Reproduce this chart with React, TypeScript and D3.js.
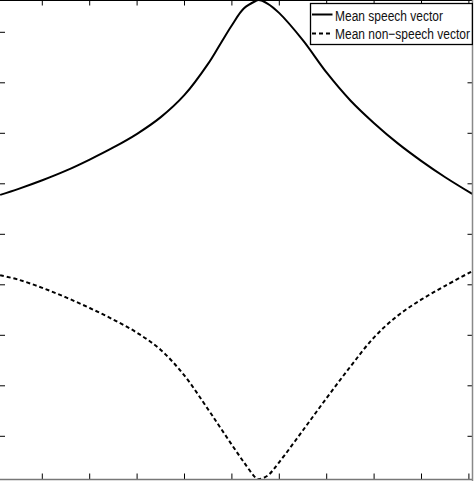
import React from "react";
import * as d3 from "d3";

const xValues = [-0.89, -0.5, 0, 0.5, 1, 1.5, 2, 2.5, 3, 3.5, 3.75, 4, 4.25, 4.5, 4.56, 4.75, 5, 5.5, 6, 6.5, 7, 7.5, 8, 8.5, 9.07];
const speechValues = [4.78, 4.9, 5.07, 5.26, 5.48, 5.72, 5.99, 6.32, 6.76, 7.38, 7.76, 8.14, 8.47, 8.62, 8.64, 8.57, 8.38, 7.84, 7.2, 6.65, 6.2, 5.8, 5.45, 5.13, 4.8];
const nonSpeechValues = [3.19, 3.1, 2.94, 2.75, 2.54, 2.31, 2.05, 1.71, 1.2, 0.53, 0.18, -0.17, -0.51, -0.82, -0.85, -0.78, -0.51, 0.12, 0.76, 1.38, 1.96, 2.39, 2.71, 2.98, 3.27];
const xTicks = [0, 1, 2, 3, 4, 5, 6, 7, 8, 9];
const yTicks = [0, 1, 2, 3, 4, 5, 6, 7, 8];
const legendLabels = ["Mean speech vector", "Mean non\u2212speech vector"];

const W = 474;
const H = 481;
const left = 0;
const right = 472.5;
const top = 0.5;
const bottom = 479.5;

export default function App() {
  const x = d3.scaleLinear().domain([0, 9]).range([42.3, 468.9]);
  const y = d3.scaleLinear().domain([0, 8]).range([436.3, 32.3]);
  const line = d3
    .line<number>()
    .x((_, i) => x(xValues[i]))
    .y((d) => y(d))
    .curve(d3.curveCatmullRom.alpha(0.5));

  const tick = 5;
  return (
    <svg width={W} height={H} style={{ position: "absolute", left: 0, top: 0, background: "#fff" }}>
      <defs>
        <clipPath id="plot">
          <rect x={left} y={0} width={right - left} height={bottom} />
        </clipPath>
        <clipPath id="fig">
          <rect x={0} y={0} width={473} height={H} />
        </clipPath>
      </defs>
      <rect x={0} y={0} width={W} height={H} fill="#fff" />
      <g clipPath="url(#plot)" fill="none" stroke="#000" strokeWidth={2}>
        <path d={line(speechValues) || ""} />
        <path d={line(nonSpeechValues) || ""} strokeDasharray="4,2.8" />
      </g>
      {/* ticks */}
      <g stroke="#000" strokeWidth={1}>
        {xTicks.map((t) => (
          <g key={"x" + t}>
            <line x1={x(t)} x2={x(t)} y1={bottom} y2={bottom - tick - 1} />
            <line x1={x(t)} x2={x(t)} y1={top} y2={top + tick} />
          </g>
        ))}
        {yTicks.map((t) => (
          <g key={"y" + t}>
            <line x1={left} x2={left + tick} y1={y(t)} y2={y(t)} />
            <line x1={right} x2={right - tick} y1={y(t)} y2={y(t)} />
          </g>
        ))}
      </g>
      {/* axes box */}
      <line x1={0} x2={473} y1={top} y2={top} stroke="#000" strokeWidth={1} />
      <line x1={0} x2={473} y1={bottom} y2={bottom} stroke="#777" strokeWidth={1.5} />
      <line x1={right} x2={right} y1={0} y2={H} stroke="#888" strokeWidth={1.5} />
      {/* legend */}
      <g clipPath="url(#fig)">
        <rect x={310.5} y={3.5} width={162} height={41} fill="#fff" stroke="#000" strokeWidth={1.3} />
        <line x1={312} x2={332.5} y1={14.5} y2={14.5} stroke="#000" strokeWidth={2} />
        <line x1={312} x2={332.5} y1={33.5} y2={33.5} stroke="#000" strokeWidth={2} strokeDasharray="4,3" />
        {legendLabels.map((label, i) => (
          <text
            key={label}
            transform={`translate(335, ${20.5 + i * 18.5}) scale(0.8, 1)`}
            fontFamily="Liberation Sans, Arial, sans-serif"
            fontSize={15}
            fill="#111"
          >
            {label}
          </text>
        ))}
        <line x1={472.5} x2={472.5} y1={3} y2={45} stroke="#000" strokeWidth={1.3} />
      </g>
    </svg>
  );
}
